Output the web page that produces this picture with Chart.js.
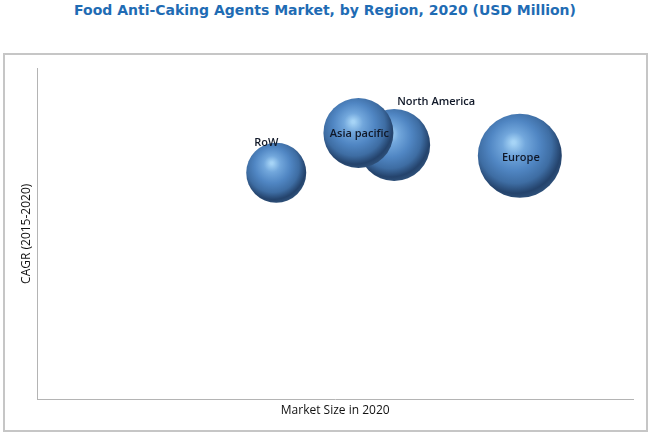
<!DOCTYPE html>
<html>
<head>
<meta charset="utf-8">
<script src="https://cdn.jsdelivr.net/npm/chart.js@4/dist/chart.umd.min.js"></script>
<style>
  body { margin: 0; background: #fff; width: 650px; height: 437px; position: relative; overflow: hidden; }
  #title {
    position: absolute; left: 0; top: 2px; width: 650px; text-align: center;
    font: bold 14px "DejaVu Sans", sans-serif; color: #1f6cb4;
  }
  #frame {
    position: absolute; left: 3px; top: 53px; width: 641px; height: 375px;
    border: 2px solid #c6c6c6;
  }
</style>
</head>
<body>
<div id="title">Food Anti-Caking Agents Market, by Region, 2020 (USD Million)</div>
<div id="frame"><canvas id="bubbleChart" width="641" height="375"></canvas></div>
<script>
// Regions, market size (x), CAGR (y) and bubble size (r); scales have no ticks in the source
const regions = ['RoW', 'North America', 'Asia pacific', 'Europe'];
const marketSize = [40.1, 59.9, 53.9, 81.0];
const cagr = [68.4, 76.8, 80.4, 73.5];
const bubbleSize = [30, 36, 35, 42];

// label placement relative to bubble centre (pixels)
const labelOffsets = [[-10, -30], [42, -43], [1, 1], [1, 2]];

document.addEventListener('DOMContentLoaded', function() {
    const points = regions.map((name, i) => ({ x: marketSize[i], y: cagr[i], r: bubbleSize[i] }));

    function sphereFill(context) {
        const chart = context.chart;
        if (!chart.chartArea || !context.raw) return '#4a7db4';
        const cx = chart.scales.x.getPixelForValue(context.raw.x);
        const cy = chart.scales.y.getPixelForValue(context.raw.y);
        const r = context.raw.r;
        const g = chart.ctx.createRadialGradient(cx - r * 0.15, cy - r * 0.32, r * 0.04, cx - r * 0.1, cy - r * 0.18, r * 1.2);
        g.addColorStop(0, '#a6d4f6');
        g.addColorStop(0.2, '#72a7dc');
        g.addColorStop(0.48, '#5086c3');
        g.addColorStop(0.72, '#3e6da3');
        g.addColorStop(0.9, '#24436c');
        g.addColorStop(1, '#2e5079');
        return g;
    }

    const labelPlugin = {
        id: 'bubbleLabels',
        afterDatasetsDraw(chart) {
            const ctx = chart.ctx;
            const meta = chart.getDatasetMeta(0);
            ctx.save();
            ctx.font = '600 11px "Open Sans", sans-serif';
            ctx.fillStyle = '#101828';
            ctx.textAlign = 'center';
            ctx.textBaseline = 'middle';
            meta.data.forEach((el, i) => {
                ctx.fillText(regions[i], el.x + labelOffsets[i][0], el.y + labelOffsets[i][1]);
            });
            ctx.restore();
        }
    };

    const axisTitleFont = { family: 'Open Sans', size: 12 };

    new Chart(document.getElementById('bubbleChart').getContext('2d'), {
        type: 'bubble',
        data: {
            datasets: [{
                data: points,
                backgroundColor: sphereFill,
                borderWidth: 0,
                hoverRadius: 0
            }]
        },
        options: {
            responsive: false,
            animation: false,
            events: [],
            layout: { autoPadding: false, padding: { left: 10, right: 13, top: 13, bottom: 8 } },
            plugins: { legend: { display: false }, tooltip: { enabled: false } },
            scales: {
                x: {
                    type: 'linear', min: 0, max: 100,
                    ticks: { display: false },
                    grid: { display: false, drawTicks: false },
                    border: { display: true, color: '#b4b4b4', width: 1 },
                    title: { display: true, text: 'Market Size in 2020', color: '#111', font: axisTitleFont }
                },
                y: {
                    type: 'linear', min: 0, max: 100,
                    ticks: { display: false },
                    grid: { display: false, drawTicks: false },
                    border: { display: true, color: '#b4b4b4', width: 1 },
                    title: { display: true, text: 'CAGR (2015-2020)', color: '#111', font: axisTitleFont }
                }
            }
        },
        plugins: [labelPlugin]
    });
});
</script>
</body>
</html>
